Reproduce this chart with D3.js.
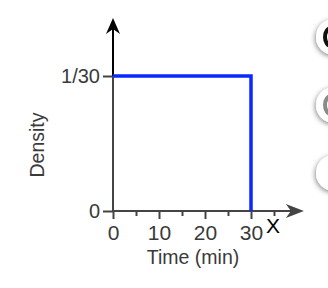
<!DOCTYPE html>
<html>
<head>
<meta charset="utf-8">
<script src="https://cdn.jsdelivr.net/npm/d3@7"></script>
<style>
  body { margin: 0; background: #fff; }
  svg { display: block; font-family: "Liberation Sans", Arial, sans-serif; }
</style>
</head>
<body>
<svg id="chart"></svg>
<script>
// uniform density on [0, 30]
const xMajorTicks = [0, 10, 20, 30];
const xMinorTicks = [5, 15, 25, 35];
const yTickValues = [0, 1 / 30];
const yTickLabels = ["0", "1/30"];
const densityX = [0, 30, 30];
const densityY = [1 / 30, 1 / 30, 0];
const xTitle = "Time (min)";
const yTitle = "Density";
const varName = "X";
// answer buttons cut off at the right edge (only the edge of the glyph shows)
const optionGlyphColors = ["#111", "#8a8a8a", null];

const width = 328, height = 288;
const svg = d3.select("#chart").attr("width", width).attr("height", height);

const x = d3.scaleLinear().domain([0, 30]).range([113, 251]);
const y = d3.scaleLinear().domain([0, 1 / 30]).range([211, 76]);
const xEnd = 41.5, yEnd = y.invert(18);

const axisGrey = "#444";
const textGrey = "#3a3a3a";

// shadow for the option buttons on the right
const defs = svg.append("defs");
const f = defs.append("filter").attr("id", "shadow").attr("x", "-50%").attr("y", "-50%")
  .attr("width", "200%").attr("height", "200%");
f.append("feDropShadow").attr("dx", -1).attr("dy", 1.5).attr("stdDeviation", 2.5)
  .attr("flood-color", "#000").attr("flood-opacity", 0.45);

const btnY = [37, 105, 173];
const opts = svg.append("g");
opts.selectAll("circle").data(optionGlyphColors).join("circle")
  .attr("cx", 334).attr("cy", (d, i) => btnY[i]).attr("r", 18)
  .attr("fill", "#fff").attr("filter", "url(#shadow)");
opts.selectAll("ellipse").data(optionGlyphColors.filter(d => d)).join("ellipse")
  .attr("cx", 331).attr("cy", (d, i) => btnY[i]).attr("rx", 6).attr("ry", 9)
  .attr("fill", "none").attr("stroke", d => d).attr("stroke-width", 4);

// x axis ticks (major + minor), domain drawn by hand with an arrow
const xAxis = svg.append("g").attr("transform", `translate(0,${y(0)})`)
  .call(d3.axisBottom(x).tickValues(xMajorTicks).tickSize(8).tickFormat(d3.format("d")));
xAxis.select(".domain").remove();
xAxis.selectAll("line").attr("stroke", axisGrey).attr("stroke-width", 2);
xAxis.selectAll("text").attr("y", 29).attr("dy", null)
  .attr("font-size", 21).attr("fill", textGrey).attr("font-family", null);

const xMinor = svg.append("g").attr("transform", `translate(0,${y(0)})`)
  .call(d3.axisBottom(x).tickValues(xMinorTicks).tickSize(5).tickFormat(""));
xMinor.select(".domain").remove();
xMinor.selectAll("line").attr("stroke", axisGrey).attr("stroke-width", 2);

const yAxis = svg.append("g").attr("transform", `translate(${x(0)},0)`)
  .call(d3.axisLeft(y).tickValues(yTickValues).tickSize(10).tickPadding(3)
    .tickFormat((d, i) => yTickLabels[i]));
yAxis.select(".domain").remove();
yAxis.selectAll("line").attr("stroke", axisGrey).attr("stroke-width", 2);
yAxis.selectAll("text").attr("font-size", 20).attr("fill", textGrey).attr("font-family", null)
  .attr("dy", "0.34em");

// axis lines
svg.append("line")
  .attr("x1", x(0)).attr("x2", x(xEnd) - 8).attr("y1", y(0)).attr("y2", y(0))
  .attr("stroke", axisGrey).attr("stroke-width", 2);
svg.append("line")
  .attr("x1", x(0)).attr("x2", x(0)).attr("y1", y(0)).attr("y2", y(1 / 30))
  .attr("stroke", axisGrey).attr("stroke-width", 2);
svg.append("line")
  .attr("x1", x(0)).attr("x2", x(0)).attr("y1", y(1 / 30)).attr("y2", y(yEnd) + 8)
  .attr("stroke", "#000").attr("stroke-width", 2);

// arrow heads
const ax = x(xEnd), ay = y(0);
svg.append("path")
  .attr("d", `M${ax},${ay}L${ax - 18},${ay - 7}L${ax - 13},${ay}L${ax - 18},${ay + 7}Z`)
  .attr("fill", axisGrey);
const tx = x(0), ty = y(yEnd);
svg.append("path")
  .attr("d", `M${tx},${ty}L${tx + 7},${ty + 16}L${tx},${ty + 11}L${tx - 7},${ty + 16}Z`)
  .attr("fill", "#000");

// density line
const line = d3.line().x(d => x(d[0])).y(d => y(d[1]));
svg.append("path")
  .datum(densityX.map((d, i) => [d, densityY[i]]))
  .attr("d", line)
  .attr("fill", "none").attr("stroke", "#0a28ff").attr("stroke-width", 3.5);

// labels
svg.append("text").attr("x", 273).attr("y", 233)
  .attr("text-anchor", "middle").attr("font-size", 21).attr("fill", "#000").text(varName);
svg.append("text").attr("x", 193).attr("y", 264)
  .attr("text-anchor", "middle").attr("font-size", 19.5).attr("fill", textGrey).text(xTitle);
svg.append("text")
  .attr("transform", `translate(44,145) rotate(-90)`)
  .attr("text-anchor", "middle").attr("font-size", 19.5).attr("fill", textGrey).text(yTitle);
</script>
</body>
</html>
